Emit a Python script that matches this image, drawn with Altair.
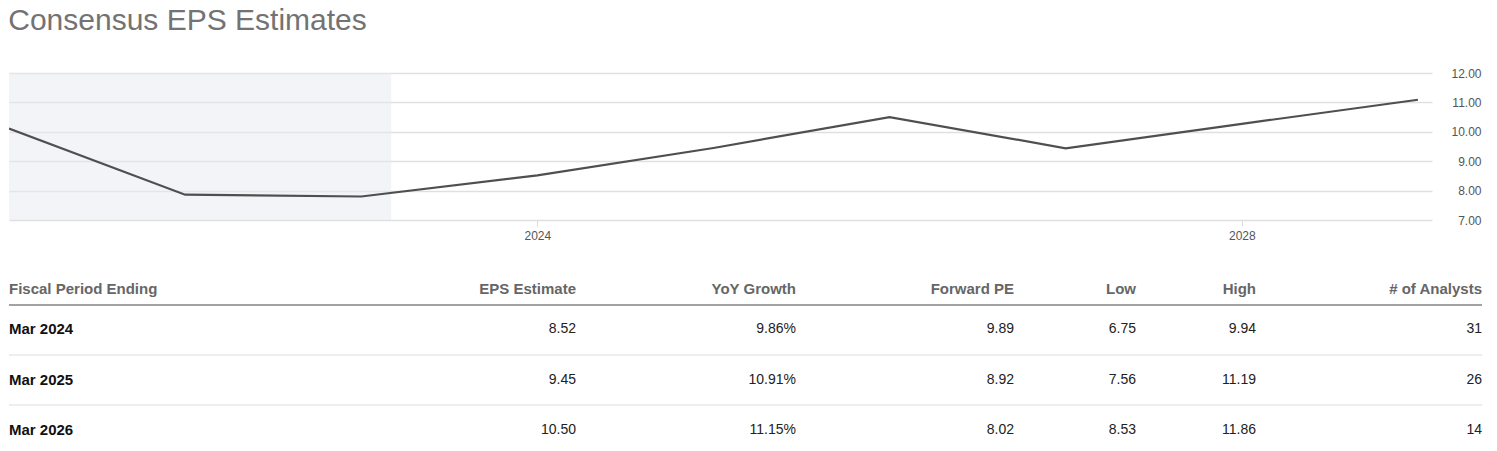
import altair as alt
import pandas as pd

# ---- chart data ----
fiscal_years = [2021, 2022, 2023, 2024, 2025, 2026, 2027, 2028, 2029]
eps_values = [10.11, 7.86, 7.80, 8.52, 9.45, 10.50, 9.44, 10.27, 11.09]
history_start = [2021.0]
history_end = [2023.17]
y_ticks = [7, 8, 9, 10, 11, 12]
x_ticks = [2024, 2028]

# ---- table data ----
columns = ["Fiscal Period Ending", "EPS Estimate", "YoY Growth", "Forward PE",
           "Low", "High", "# of Analysts"]
periods = ["Mar 2024", "Mar 2025", "Mar 2026"]
eps_estimate = ["8.52", "9.45", "10.50"]
yoy_growth = ["9.86%", "10.91%", "11.15%"]
forward_pe = ["9.89", "8.92", "8.02"]
low = ["6.75", "7.56", "8.53"]
high = ["9.94", "11.19", "11.86"]
analysts = ["31", "26", "14"]

FONT = "Liberation Sans"

# ---------------- line chart ----------------
line_df = pd.DataFrame({"year": fiscal_years, "eps": eps_values})
shade_df = pd.DataFrame({"start": history_start, "end": history_end,
                         "lo": [y_ticks[0]], "hi": [y_ticks[-1]]})

xscale = alt.Scale(domain=[2021, 2029.08], nice=False, zero=False)
yscale = alt.Scale(domain=[7, 12], nice=False, zero=False)

xaxis = alt.Axis(values=x_ticks, format="d", title=None, domain=False, grid=False,
                 ticks=True, tickSize=6, tickColor="#dcdcdc", tickWidth=1,
                 labelFontSize=12, labelColor="#555555", labelPadding=4,
                 labelFont=FONT)
yaxis = alt.Axis(orient="right", values=y_ticks, format=".2f", title=None,
                 domain=False, ticks=False, labelPadding=49, labelAlign="right",
                 labelFontSize=12, labelColor="#555555", labelFont=FONT,
                 gridColor="#e0e0e0", gridWidth=1.5)

shade = alt.Chart(shade_df).mark_rect(fill="#e7e9f1", opacity=0.5).encode(
    x=alt.X("start:Q", scale=xscale, axis=xaxis),
    x2="end:Q",
    y=alt.Y("lo:Q", scale=yscale, axis=yaxis),
    y2="hi:Q",
)
line = alt.Chart(line_df).mark_line(color="#4f4f4f", strokeWidth=2.2, clip=True).encode(
    x=alt.X("year:Q", scale=xscale, axis=xaxis),
    y=alt.Y("eps:Q", scale=yscale, axis=yaxis),
)
chart1 = alt.layer(shade, line).properties(width=1423, height=147)

# ---------------- table ----------------
body_cols = [periods, eps_estimate, yoy_growth, forward_pe, low, high, analysts]
records = []
for c, name in enumerate(columns):
    records.append({"col": c, "row": 0, "txt": name})
    for r, val in enumerate(body_cols[c]):
        records.append({"col": c, "row": r + 1, "txt": val})
table_df = pd.DataFrame(records)

rule_df = pd.DataFrame({"pos": [0.5, 1.5, 2.5], "kind": ["head", "body", "body"],
                        "c0": [0, 0, 0], "c1": [6, 6, 6]})

tx = alt.Scale(domain=list(range(7)), range=[0, 567, 787, 1005, 1127, 1247, 1473],
               nice=False, zero=False)
ty = alt.Scale(domain=[0, 0.5, 1, 1.5, 2, 2.5, 3],
               range=[28, 44, 68, 94, 119, 144, 169], nice=False, zero=False)

base = alt.Chart(table_df).encode(
    x=alt.X("col:Q", scale=tx, axis=None),
    y=alt.Y("row:Q", scale=ty, axis=None),
    text="txt:N",
)
head_first = base.transform_filter("datum.row == 0 && datum.col == 0").mark_text(
    align="left", baseline="middle", font=FONT, fontSize=15, fontWeight="bold",
    color="#666666")
head_rest = base.transform_filter("datum.row == 0 && datum.col > 0").mark_text(
    align="right", baseline="middle", font=FONT, fontSize=15, fontWeight="bold",
    color="#666666")
body_first = base.transform_filter("datum.row > 0 && datum.col == 0").mark_text(
    align="left", baseline="middle", font=FONT, fontSize=15, fontWeight="bold",
    color="#111111")
body_rest = base.transform_filter("datum.row > 0 && datum.col > 0").mark_text(
    align="right", baseline="middle", font=FONT, fontSize=14, color="#222222")

rules_base = alt.Chart(rule_df).encode(
    x=alt.X("c0:Q", scale=tx, axis=None),
    x2="c1:Q",
    y=alt.Y("pos:Q", scale=ty, axis=None),
)
head_rule = rules_base.transform_filter("datum.kind == 'head'").mark_rule(
    color="#7f8487", strokeWidth=1.5)
body_rule = rules_base.transform_filter("datum.kind == 'body'").mark_rule(
    color="#dddddd", strokeWidth=1)

table = alt.layer(head_rule, body_rule, head_first, head_rest, body_first,
                  body_rest).properties(width=1474, height=180)

chart = alt.vconcat(chart1, table, spacing=20).properties(
    title=alt.TitleParams("Consensus EPS Estimates", anchor="start", fontSize=30,
                          color="#737373", font=FONT, fontWeight="normal",
                          offset=31),
    padding={"top": -2, "left": 0, "right": 0, "bottom": 0},
).configure_view(stroke=None)

chart.save("out.html", embed_options={"renderer": "svg", "actions": False})
